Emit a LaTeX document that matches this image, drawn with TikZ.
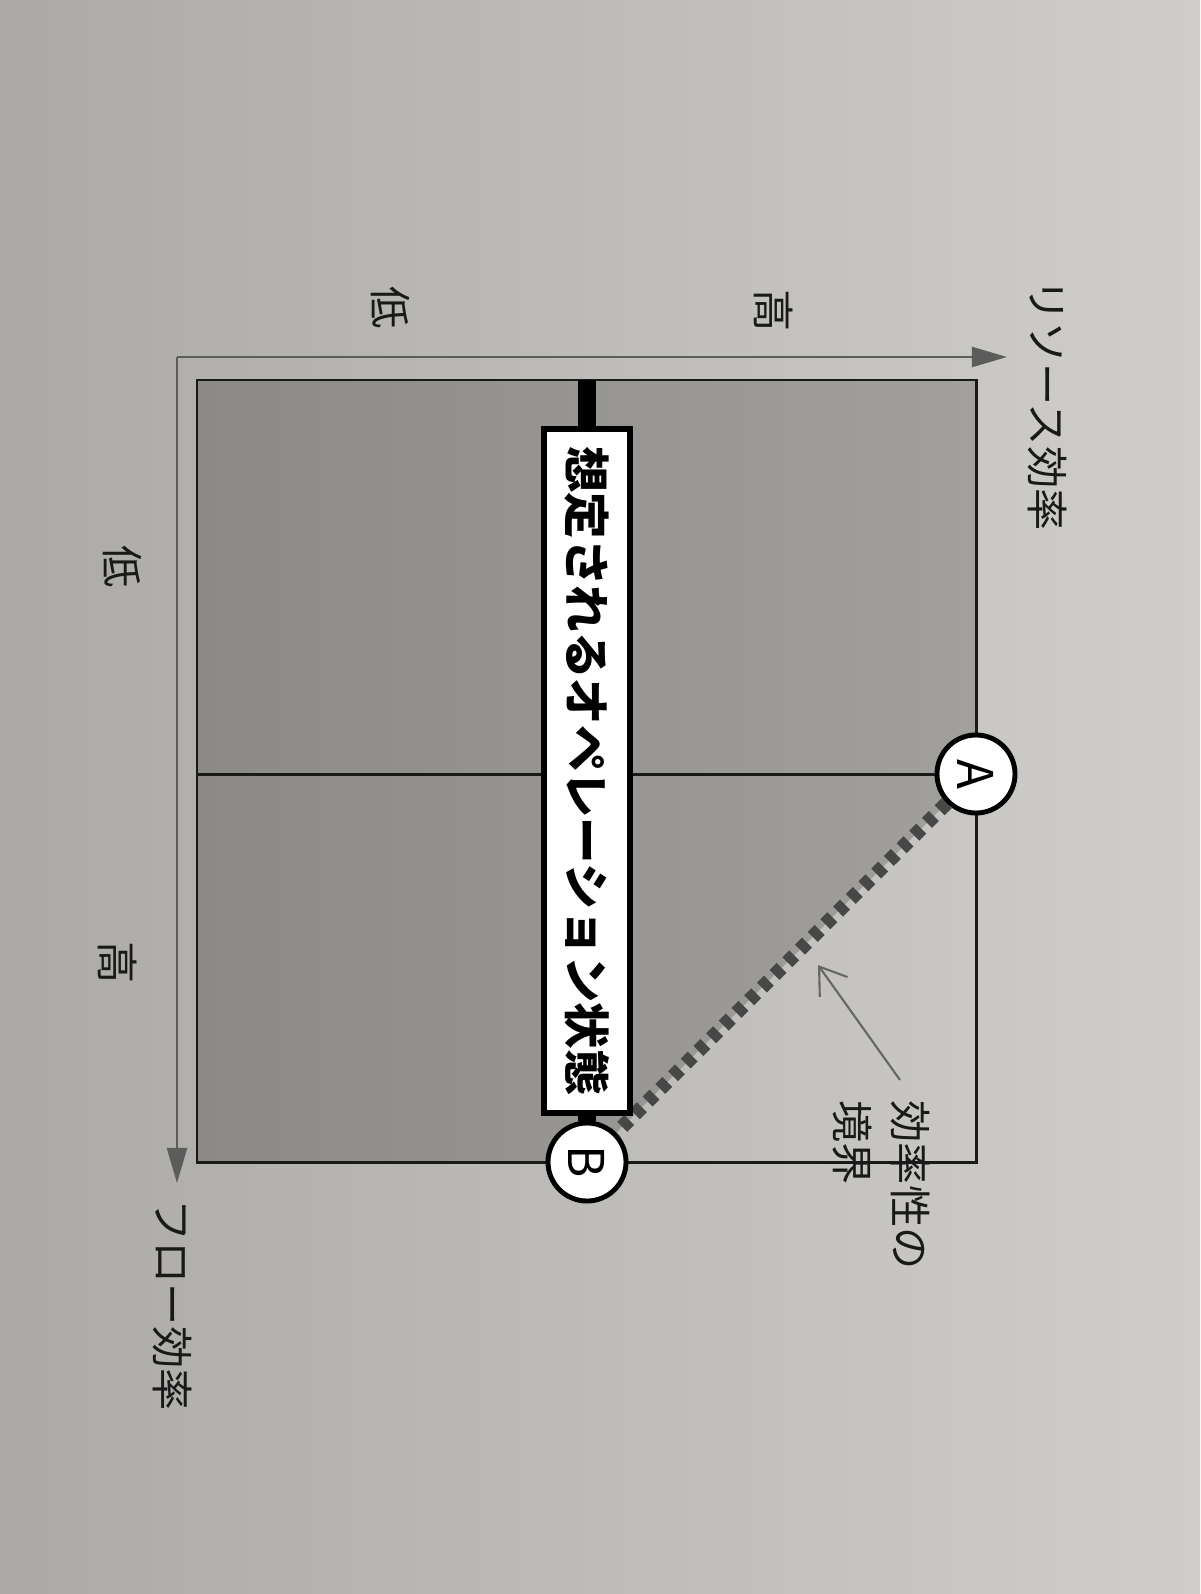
\documentclass[tikz,border=0pt]{standalone}
\usepackage{fontspec}
\setmainfont{Noto Sans CJK JP}
\usepackage{tikz}
\usetikzlibrary{arrows.meta}
\definecolor{paperL}{RGB}{172,170,166}
\definecolor{paperR}{RGB}{208,206,202}
\definecolor{cellL}{RGB}{140,138,135}
\definecolor{cellR}{RGB}{162,160,157}
\definecolor{axisgray}{RGB}{92,92,92}
\tikzstyle{txt}=[rotate=-90,inner sep=0,font=\fontsize{12}{16.5}\selectfont,text=black!90]
\tikzset{axisline/.style={draw=axisgray,line width=0.6pt,-{Triangle[length=3.5mm,width=2mm]}}}
\tikzset{frame/.style={draw=black!90,line width=0.85pt}}
\tikzset{
  corner/.style={
    circle,
    draw=black,
    fill=white,
    line width=1.4pt,
    minimum size=0.78cm,
    inner sep=0,
    rotate=-90,
    font=\fontsize{14}{14}\selectfont
  }
}
\tikzset{
  statebox/.style={
    rotate=-90,
    draw=black,
    fill=white,
    line width=1.8pt,
    minimum width=6.83cm,
    minimum height=0.86cm,
    inner sep=0,
    font=\bfseries\fontsize{13.2}{13.2}\selectfont
  }
}
\tikzset{bar/.style={draw=black,line width=5pt}}
\tikzset{boundary/.style={draw=black!72,line width=4pt,dash pattern=on 2.8pt off 2.3pt}}
\tikzset{pointer/.style={draw=black!60,line width=0.6pt,-{Straight Barb[length=2.5mm,width=3.4mm]}}}
\begin{document}
\begin{tikzpicture}[x=0.01cm,y=-0.01cm]
\useasboundingbox (0,0) rectangle (1200,1594);
\shade[left color=paperL,right color=paperR] (0,0) rectangle (1200,1594);

\coordinate (o) at (177,357);
\coordinate (xend) at (177,1183);
\coordinate (yend) at (1007,357);
\coordinate (tl) at (197,380);
\coordinate (tr) at (976,380);
\coordinate (br) at (976,1162);
\coordinate (bl) at (197,1162);
\coordinate (tm) at (587,380);
\coordinate (lm) at (197,774);
\coordinate (Apos) at (976,774);
\coordinate (Bpos) at (587,1162);
\coordinate (ptail) at (900,1080);
\coordinate (ptip) at (818,965);

% gray area
\shade[left color=cellL,right color=cellR] (tl) -- (tr) -- (Apos) -- (Bpos) -- (bl) -- cycle;
\draw[frame] (tl) rectangle (br);

\draw[axisline] (o) -- (xend);
\draw[axisline] (o) -- (yend);

\node[corner] (A) at (Apos) {A};
\node[corner] (B) at (Bpos) {B};

\draw[frame] (lm) -- (A);
\draw[frame] (tm) -- (B);
\draw[boundary] (A) -- (B);

\node[statebox] (state) at (587,771) {想定されるオペレーション状態};
\draw[bar] (tm) -- (state.west);
\draw[bar] (state.east) -- (B);

\node[txt] (ytitle) at (1047,405) {リソース効率};
\node[txt] (xtitle) at (172,1305) {フロー効率};
\node[txt] (ylow) at (390,308) {低};
\node[txt] (yhigh) at (774,311) {高};
\node[txt] (xlow) at (122,567) {低};
\node[txt] (xhigh) at (118,963) {高};
\node[txt,align=left] (bound) at (881,1185) {効率性の\\境界};

\draw[pointer] (ptail) -- (ptip);

\end{tikzpicture}
\end{document}
